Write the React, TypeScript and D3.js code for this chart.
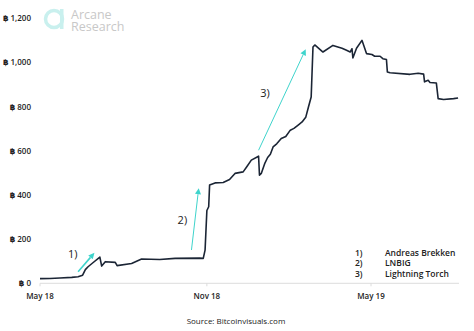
import React from "react";
import * as d3 from "d3";

const dates = [
  "2018-05-01","2018-05-12","2018-05-23","2018-06-05","2018-06-12","2018-06-17","2018-06-20","2018-06-23","2018-06-28","2018-07-06",
  "2018-07-08","2018-07-12","2018-07-23","2018-07-25","2018-08-10","2018-08-21","2018-09-10","2018-09-27","2018-10-24","2018-10-28",
  "2018-10-30","2018-11-01","2018-11-03","2018-11-04","2018-11-10","2018-11-19","2018-11-26","2018-12-02","2018-12-11","2018-12-15",
  "2018-12-20","2018-12-28","2018-12-29","2018-12-31","2019-01-04","2019-01-07","2019-01-10","2019-01-13","2019-01-17","2019-01-22",
  "2019-01-27","2019-02-01","2019-02-05","2019-02-10","2019-02-14","2019-02-18","2019-02-21","2019-02-24","2019-02-26","2019-02-28",
  "2019-03-09","2019-03-20","2019-03-30","2019-04-04","2019-04-08","2019-04-10","2019-04-11","2019-04-15","2019-04-21","2019-04-26",
  "2019-05-02","2019-05-05","2019-05-11","2019-05-14","2019-05-18","2019-05-19","2019-05-22","2019-06-13","2019-06-22","2019-06-28",
  "2019-06-29","2019-07-03","2019-07-05","2019-07-12","2019-07-14","2019-07-20","2019-07-31","2019-08-05",
];
const capacity = [
  21,22,24,27,30,37,62,75,92,119,
  78,98,95,80,90,110,108,113,114,113,
  150,330,347,445,455,457,470,498,505,528,
  558,576,490,498,545,570,585,618,632,656,
  665,694,702,718,731,752,799,844,1071,1080,
  1048,1078,1065,1056,1048,1063,1021,1065,1101,1041,
  1037,1029,1029,1018,1014,958,954,947,952,948,
  913,920,910,908,837,833,837,840,
];

const yTicks = [0, 200, 400, 600, 800, 1000, 1200];
const xTickDates = ["2018-05-01", "2018-11-01", "2019-05-01"];
const xTickLabels = ["May 18", "Nov 18", "May 19"];

const arrowLabels = ["1)", "2)", "3)"];
const arrowFromDates = ["2018-06-12", "2018-10-15", "2018-12-28"];
const arrowFromValues = [52, 151, 603];
const arrowToDates = ["2018-06-30", "2018-10-23", "2019-02-18"];
const arrowToValues = [138, 431, 1061];
const labelDates = ["2018-06-06", "2018-10-05", "2019-01-04"];
const labelValues = [133, 284, 860];

const legendNums = ["1)", "2)", "3)"];
const legendNames = ["Andreas Brekken", "LNBIG", "Lightning Torch"];

const logoLines = ["Arcane", "Research"];

const parse = d3.timeParse("%Y-%m-%d");

export default function App() {
  const W = 474, H = 331;
  const x = d3.scaleTime()
    .domain([parse("2018-05-01")!, parse("2019-08-06")!])
    .range([40, 459]);
  const y = d3.scaleLinear().domain([0, 1200]).range([283.3, 18.5]);
  const data = dates.map((d, i) => ({ d: parse(d)!, v: capacity[i] }));
  const line = d3.line<{ d: Date; v: number }>()
    .x(p => x(p.d))
    .y(p => y(p.v));
  const fmt = d3.format(",");
  const font = "'Open Sans', 'DejaVu Sans', sans-serif";
  const cyan = "#3fd4cc";

  const arrows = arrowFromDates.map((fd, i) => {
    const x1 = x(parse(fd)!), y1 = y(arrowFromValues[i]);
    const x2 = x(parse(arrowToDates[i])!), y2 = y(arrowToValues[i]);
    const ang = Math.atan2(y2 - y1, x2 - x1);
    const L = 6, Wd = 3;
    const bx = x2 - L * Math.cos(ang), by = y2 - L * Math.sin(ang);
    const px = -Math.sin(ang) * Wd, py = Math.cos(ang) * Wd;
    return { x1, y1, bx, by, x2, y2, head: `M${x2},${y2}L${bx + px},${by + py}L${bx - px},${by - py}Z`, sw: i === 0 ? 1.6 : 1 };
  });

  return (
    <svg width={W} height={H} style={{ position: "absolute", left: 0, top: 0, background: "#fff" }}>
      <rect width={W} height={H} fill="#fff" />
      {/* logo */}
      <g>
        <circle cx={54} cy={19} r={8.5} fill="none" stroke="#c9f0ee" strokeWidth={3.5} />
        <rect x={60} y={9} width={3.5} height={20} fill="#c9f0ee" />
        <text x={71} y={19} fontFamily={font} fontSize={12.5} fill="#c8c8c8">
          <tspan x={71} y={19}>{logoLines[0]}</tspan>
          <tspan x={71} y={30.5}>{logoLines[1]}</tspan>
        </text>
      </g>
      {/* y axis labels */}
      {yTicks.map(t => (
        <text key={t} x={31} y={y(t)} dy="0.35em" textAnchor="end" fontFamily={font} fontSize={8} fontWeight={600} fill="#222">
          {"฿ " + fmt(t)}
        </text>
      ))}
      {/* x axis */}
      <line x1={40} x2={459} y1={y(0)} y2={y(0)} stroke="#dcdcdc" strokeWidth={1} />
      {xTickDates.map((t, i) => (
        <g key={t}>
          <line x1={x(parse(t)!)} x2={x(parse(t)!)} y1={y(0)} y2={y(0) + 3} stroke="#dcdcdc" />
          <text x={x(parse(t)!)} y={296} dy="0.35em" textAnchor="middle" fontFamily={font} fontSize={8} fontWeight={600} fill="#222">
            {xTickLabels[i]}
          </text>
        </g>
      ))}
      {/* data line */}
      <path d={line(data)!} fill="none" stroke="#1b2535" strokeWidth={1.6} strokeLinejoin="round" />
      {/* arrows */}
      {arrows.map((a, i) => (
        <g key={i}>
          <line x1={a.x1} y1={a.y1} x2={a.bx} y2={a.by} stroke={cyan} strokeWidth={a.sw} />
          <path d={a.head} fill={cyan} />
          <text x={x(parse(labelDates[i])!)} y={y(labelValues[i])} dy="0.35em" textAnchor="middle" fontFamily={font} fontSize={11} fill="#222">
            {arrowLabels[i]}
          </text>
        </g>
      ))}
      {/* legend */}
      {legendNames.map((n, i) => (
        <g key={n}>
          <text x={355} y={252.7 + i * 10.7} dy="0.35em" fontFamily={font} fontSize={8.5} fontWeight={600} fill="#222">{legendNums[i]}</text>
          <text x={385} y={252.7 + i * 10.7} dy="0.35em" fontFamily={font} fontSize={8.5} fontWeight={600} fill="#222">{n}</text>
        </g>
      ))}
      <text x={236} y={321} dy="0.35em" textAnchor="middle" fontFamily={font} fontSize={8} fill="#222">
        Source: Bitcoinvisuals.com
      </text>
    </svg>
  );
}
